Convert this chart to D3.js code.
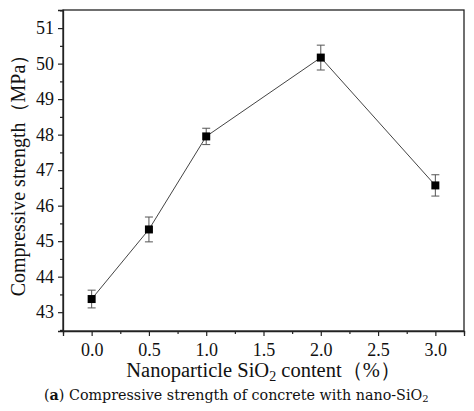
<!DOCTYPE html>
<html><head><meta charset="utf-8">
<script src="https://cdn.jsdelivr.net/npm/d3@7"></script>
<style>body{margin:0;background:#fff}svg{display:block}</style>
</head><body>
<script>
const contents = [0.0, 0.5, 1.0, 2.0, 3.0];
const strengths = [43.37, 45.33, 47.95, 50.17, 46.57];
const errors = [0.25, 0.35, 0.23, 0.35, 0.30];
const xTicks = [0.0, 0.5, 1.0, 1.5, 2.0, 2.5, 3.0];
const yTicks = [43, 44, 45, 46, 47, 48, 49, 50, 51];

const W = 474, H = 411;
const m = {l: 63, t: 10, r: 10, b: 80};
const svg = d3.select("body").append("svg").attr("width", W).attr("height", H);
const x = d3.scaleLinear().domain([-0.25, 3.25]).range([m.l, W - m.r]);
const y = d3.scaleLinear().domain([42.47, 51.51]).range([H - m.b, m.t]);
const font = "'Liberation Serif', 'Times New Roman', serif";

// frame
svg.append("rect").attr("x", x(-0.25)).attr("y", y(51.51))
  .attr("width", x(3.25) - x(-0.25)).attr("height", y(42.47) - y(51.51))
  .attr("fill", "none").attr("stroke", "#222").attr("stroke-width", 1.3);

// x axis
svg.append("g").attr("transform", `translate(0,${y(42.47)})`)
  .call(d3.axisBottom(x).tickValues(xTicks).tickFormat(d3.format(".1f")).tickSize(5).tickPadding(7));
svg.append("g").attr("transform", `translate(0,${y(42.47)})`)
  .call(d3.axisBottom(x).tickValues(d3.range(-0.25, 3.26, 0.5)).tickFormat("").tickSize(3))
  .call(g => g.select(".domain").remove());
// y axis
svg.append("g").attr("transform", `translate(${x(-0.25)},0)`)
  .call(d3.axisLeft(y).tickValues(yTicks).tickSize(5).tickPadding(4));
svg.append("g").attr("transform", `translate(${x(-0.25)},0)`)
  .call(d3.axisLeft(y).tickValues(d3.range(42.5, 51.6, 1)).tickFormat("").tickSize(3))
  .call(g => g.select(".domain").remove());
svg.selectAll(".domain").attr("stroke", "#222").attr("stroke-width", 1.3);
svg.selectAll(".tick line").attr("stroke", "#222").attr("stroke-width", 1.2);
svg.selectAll(".tick text").style("font-family", font).attr("font-size", 18).attr("fill", "#111");

// line
svg.append("path").datum(contents.map((c, i) => [c, strengths[i]]))
  .attr("d", d3.line().x(d => x(d[0])).y(d => y(d[1])))
  .attr("fill", "none").attr("stroke", "#444").attr("stroke-width", 1);

// error bars
const eb = svg.append("g").attr("stroke", "#555").attr("stroke-width", 1);
contents.forEach((c, i) => {
  const cx = x(c), t = y(strengths[i] + errors[i]), b = y(strengths[i] - errors[i]);
  eb.append("line").attr("x1", cx).attr("x2", cx).attr("y1", t).attr("y2", b);
  eb.append("line").attr("x1", cx - 4).attr("x2", cx + 4).attr("y1", t).attr("y2", t);
  eb.append("line").attr("x1", cx - 4).attr("x2", cx + 4).attr("y1", b).attr("y2", b);
});

// markers
svg.selectAll("rect.pt").data(contents).enter().append("rect").attr("class", "pt")
  .attr("x", d => x(d) - 4).attr("y", (d, i) => y(strengths[i]) - 4)
  .attr("width", 8).attr("height", 8).attr("fill", "#000");

// y label
svg.append("text").attr("transform", `translate(25,${(m.t + H - m.b) / 2}) rotate(-90)`)
  .attr("text-anchor", "middle").style("font-family", font).attr("font-size", 20).attr("fill", "#111")
  .text("Compressive strength（MPa）");

// x label
const xl = svg.append("text").attr("x", (m.l + W - m.r) / 2).attr("y", 377)
  .attr("text-anchor", "middle").style("font-family", font).attr("font-size", 20.5).attr("fill", "#111");
xl.append("tspan").text("Nanoparticle SiO");
xl.append("tspan").attr("dy", 4).attr("font-size", 14).text("2");
xl.append("tspan").attr("dy", -4).text(" content（%）");

// caption
const cap = svg.append("text").attr("x", 44).attr("y", 400)
  .style("font-family", "'DejaVu Serif', serif").attr("font-size", 14.3).attr("fill", "#111");
cap.append("tspan").text("(");
cap.append("tspan").attr("font-weight", "bold").text("a");
cap.append("tspan").text(") Compressive strength of concrete with nano-SiO");
cap.append("tspan").attr("font-size", 10).attr("dy", 2).text("2");
</script>
</body></html>
